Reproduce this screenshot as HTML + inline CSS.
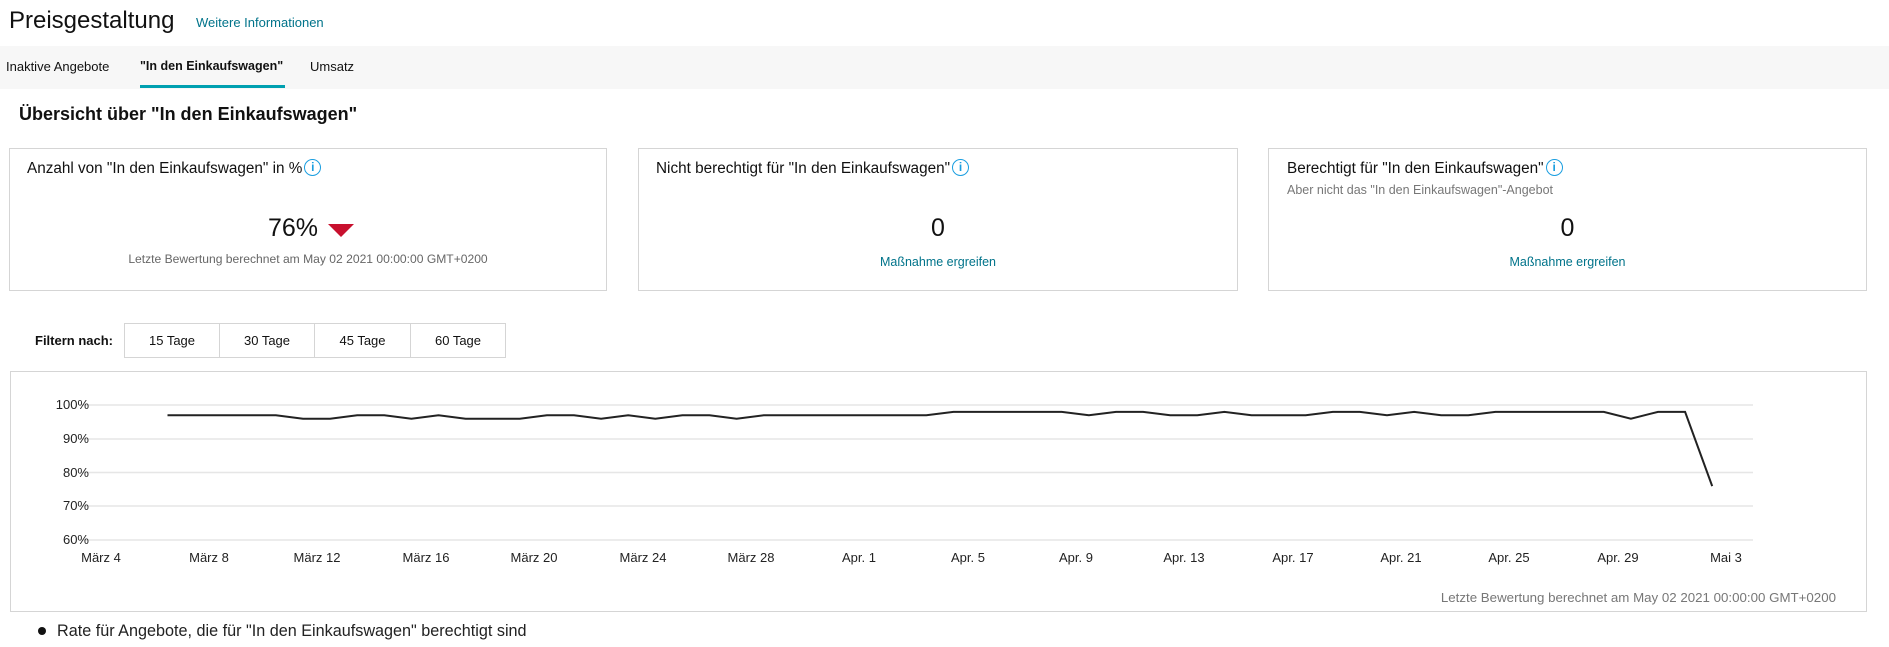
<!DOCTYPE html>
<html><head><meta charset="utf-8"><style>
body{margin:0;width:1889px;height:647px;background:#fff;font-family:"Liberation Sans",Arial,sans-serif;color:#111;position:relative;overflow:hidden}
.a{position:absolute;white-space:nowrap}
.card{position:absolute;border:1px solid #d5d5d5;box-sizing:border-box;top:148px;height:143px}
.info{display:inline-block;width:15px;height:15px;border:1.5px solid #1a9ee0;border-radius:50%;color:#1a9ee0;font-size:12px;line-height:15px;text-align:center;font-weight:bold;vertical-align:2px;margin-left:2px;box-sizing:content-box}
.btn{position:absolute;top:323px;height:35px;border:1px solid #d5d5d5;box-sizing:border-box;font-size:13px;line-height:33px;text-align:center}
</style></head><body>
<div class="a" style="left:9px;top:7px;font-size:24px;color:#111">Preisgestaltung</div>
<div class="a" style="left:196px;top:15px;font-size:13px;color:#00738a">Weitere Informationen</div>
<div class="a" style="left:0;top:46px;width:1889px;height:43px;background:#f7f7f7"></div>
<div class="a" style="left:6px;top:59px;font-size:13px">Inaktive Angebote</div>
<div class="a" style="left:140px;top:59px;font-size:12.5px;font-weight:bold">"In den Einkaufswagen"</div>
<div class="a" style="left:140px;top:85px;width:145px;height:3px;background:#00a0b0"></div>
<div class="a" style="left:310px;top:59px;font-size:13px">Umsatz</div>
<div class="a" style="left:19px;top:104px;font-size:18px;font-weight:bold">Übersicht über "In den Einkaufswagen"</div>

<div class="card" style="left:9px;width:598px">
 <div class="a" style="left:17px;top:10px;font-size:15.3px">Anzahl von "In den Einkaufswagen" in %<span class="info">i</span></div>
 <div class="a" style="left:258px;top:65px;font-size:25px">76%</div>
 <div class="a" style="left:318px;top:75px;width:0;height:0;border-left:13px solid transparent;border-right:13px solid transparent;border-top:13px solid #c8102e"></div>
 <div class="a" style="left:0;width:596px;text-align:center;top:103px;font-size:12.1px;color:#666">Letzte Bewertung berechnet am May 02 2021 00:00:00 GMT+0200</div>
</div>
<div class="card" style="left:638px;width:600px">
 <div class="a" style="left:17px;top:10px;font-size:15.3px">Nicht berechtigt für "In den Einkaufswagen"<span class="info">i</span></div>
 <div class="a" style="left:0;width:598px;text-align:center;top:65px;font-size:25px">0</div>
 <div class="a" style="left:0;width:598px;text-align:center;top:106px;font-size:12.5px;color:#00738a">Maßnahme ergreifen</div>
</div>
<div class="card" style="left:1268px;width:599px">
 <div class="a" style="left:18px;top:10px;font-size:15.3px">Berechtigt für "In den Einkaufswagen"<span class="info">i</span></div>
 <div class="a" style="left:18px;top:34px;font-size:12.5px;color:#777">Aber nicht das "In den Einkaufswagen"-Angebot</div>
 <div class="a" style="left:0;width:597px;text-align:center;top:65px;font-size:25px">0</div>
 <div class="a" style="left:0;width:597px;text-align:center;top:106px;font-size:12.5px;color:#00738a">Maßnahme ergreifen</div>
</div>

<div class="a" style="left:35px;top:333px;font-size:13px;font-weight:bold">Filtern nach:</div>
<div class="btn" style="left:124px;width:96px">15 Tage</div>
<div class="btn" style="left:219px;width:96px">30 Tage</div>
<div class="btn" style="left:314px;width:97px">45 Tage</div>
<div class="btn" style="left:410px;width:96px">60 Tage</div>

<div class="a" style="left:10px;top:371px;width:1857px;height:241px;border:1px solid #d5d5d5;box-sizing:border-box"></div>
<svg class="a" style="left:0;top:0" width="1889" height="647" font-family="Liberation Sans, Arial, sans-serif" font-size="13">
<g stroke="#e6e6e6" stroke-width="1.5">
<line x1="81" x2="1753" y1="405" y2="405"/><line x1="81" x2="1753" y1="439" y2="439"/><line x1="81" x2="1753" y1="472.5" y2="472.5"/><line x1="81" x2="1753" y1="506" y2="506"/><line x1="81" x2="1753" y1="540" y2="540"/>
</g>
<g text-anchor="end" fill="#222">
<text x="89" y="409">100%</text><text x="89" y="443">90%</text><text x="89" y="477">80%</text><text x="89" y="510">70%</text><text x="89" y="544">60%</text>
</g>
<g text-anchor="middle" fill="#222">
<text x="101" y="562">März 4</text><text x="209" y="562">März 8</text><text x="317" y="562">März 12</text><text x="426" y="562">März 16</text><text x="534" y="562">März 20</text><text x="643" y="562">März 24</text><text x="751" y="562">März 28</text><text x="859" y="562">Apr. 1</text><text x="968" y="562">Apr. 5</text><text x="1076" y="562">Apr. 9</text><text x="1184" y="562">Apr. 13</text><text x="1293" y="562">Apr. 17</text><text x="1401" y="562">Apr. 21</text><text x="1509" y="562">Apr. 25</text><text x="1618" y="562">Apr. 29</text><text x="1726" y="562">Mai 3</text>
</g>
<polyline fill="none" stroke="#222" stroke-width="2" points="167.5,415.3 275.9,415.3 303,418.7 330.1,418.7 357.2,415.3 384.3,415.3 411.4,418.7 438.5,415.3 465.6,418.7 519.8,418.7 546.9,415.3 574,415.3 601.1,418.7 628.2,415.3 655.3,418.7 682.4,415.3 709.5,415.3 736.6,418.7 763.7,415.3 926.3,415.3 953.4,411.9 1061.8,411.9 1088.9,415.3 1116,411.9 1143.1,411.9 1170.2,415.3 1197.3,415.3 1224.4,411.9 1251.5,415.3 1305.7,415.3 1332.8,411.9 1359.9,411.9 1387,415.3 1414.1,411.9 1441.2,415.3 1468.3,415.3 1495.4,411.9 1603.8,411.9 1630.9,418.7 1658,411.9 1685.1,411.9 1712.2,486.1"/>
<text x="1836" y="602" text-anchor="end" fill="#777" font-size="13.3">Letzte Bewertung berechnet am May 02 2021 00:00:00 GMT+0200</text>
<circle cx="42" cy="631" r="4" fill="#111"/>
<text x="57" y="636" font-size="16.2" fill="#222">Rate für Angebote, die für "In den Einkaufswagen" berechtigt sind</text>
</svg>
</body></html>
